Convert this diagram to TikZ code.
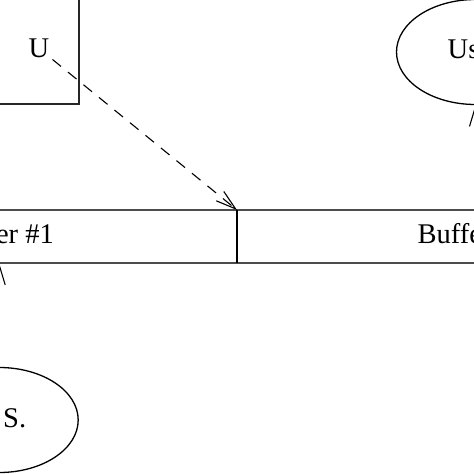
\documentclass[tikz,border=0pt]{standalone}
\usepackage{fontspec}
\setmainfont{Liberation Serif}
\usetikzlibrary{shapes.geometric,arrows.meta}
\begin{document}
\begin{tikzpicture}[x=1pt,y=-1pt,
  lbl/.style={font=\fontsize{28.5}{34}\selectfont, inner sep=0pt},
  boxshape/.style={draw=black!85, line width=1.1pt, rectangle, inner sep=0pt, outer sep=0pt},
  bufcell/.style={draw=black!70, line width=1.3pt, rectangle, inner sep=0pt, outer sep=0pt, minimum height=53pt},
  oval/.style={draw=black, line width=1.3pt, ellipse, inner sep=0pt, outer sep=0pt, minimum width=158pt, minimum height=105pt},
  arr/.style={line width=1.1pt, -{Straight Barb[length=20pt,width=12pt,line width=1.1pt]}},
  dashedarr/.style={arr, dash pattern=on 11pt off 9pt}
]
\path[use as bounding box] (0,0) rectangle (474,474);
\clip (0,0) rectangle (474,474);
% U box
\node[boxshape, minimum width=80pt, minimum height=110pt] (ubox) at (39,49) {};
\node[lbl, inner sep=3pt] (utext) at (39,48.5) {U};
% buffer cells
\node[bufcell, minimum width=337pt] (buf1) at (68.5,236.5) {};
\node[bufcell, minimum width=343pt] (buf2) at (408.5,236.5) {};
\draw[line width=2.2pt] (buf1.north east) -- (buf1.south east);
\node[lbl, anchor=base east] (t1) at (54,243) {er \#1};
\node[lbl, anchor=base west] (t2) at (417.5,243) {Buffe};
% ellipses
\node[oval] (user) at (475.5,52) {};
\node[lbl, anchor=base west] (usertext) at (447.5,58) {Us};
\node[oval] (os) at (-0.8,420) {};
\node[lbl, anchor=base west] (ostext) at (3,427) {S.};
% connectors
\draw[dashedarr] (utext) -- (buf1.north east);
\draw[arr] (user.south |- buf2.north) -- (user.south);
\draw[arr] (os.north) -- (os.north |- buf1.south);
\end{tikzpicture}
\end{document}
